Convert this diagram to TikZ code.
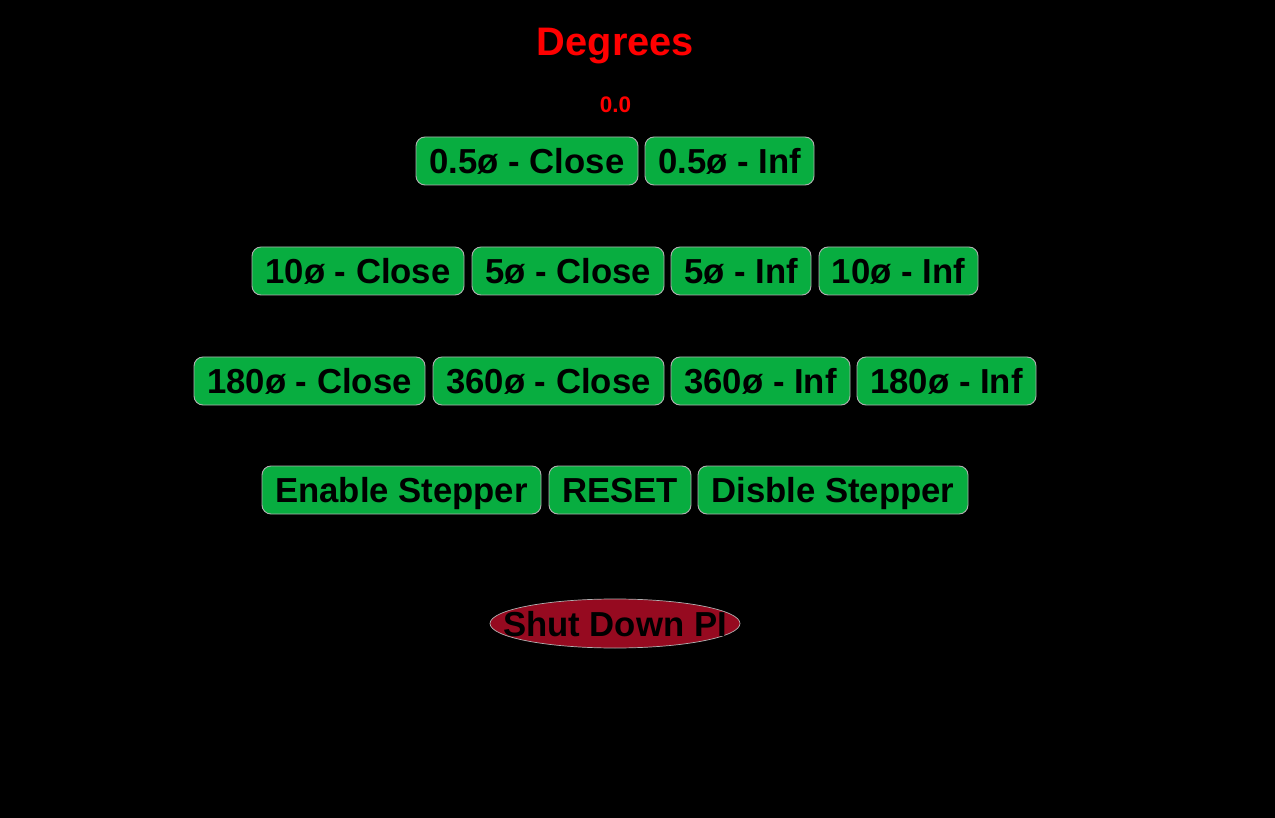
\documentclass[tikz,border=0pt]{standalone}
\usepackage{fontspec}
\setmainfont{Liberation Sans}
\usetikzlibrary{shapes.geometric}
\definecolor{btngreen}{HTML}{08AD40}
\definecolor{btnred}{HTML}{960A20}
\definecolor{btnedge}{HTML}{B0B0B0}
\definecolor{titlered}{HTML}{FF0000}
\tikzset{
  btn/.style={draw=btnedge, line width=0.9pt, fill=btngreen, rounded corners=9pt,
    minimum height=48pt, inner sep=0pt, text height=24.6pt, text depth=0pt,
    font=\fontsize{34.7pt}{36pt}\selectfont\bfseries, text=black},
  shut/.style={ellipse, draw=btnedge, line width=0.7pt, fill=btnred,
    minimum width=250pt, minimum height=49pt, inner sep=0pt, text height=24.6pt, text depth=0pt,
    font=\fontsize{34.7pt}{36pt}\selectfont\bfseries, text=black},
  ttl/.style={text=titlered, inner sep=0pt, anchor=base}
}
\begin{document}
\begin{tikzpicture}[x=1pt,y=-1pt]
\fill[black] (0,0) rectangle (1275,818);
\useasboundingbox (0,0) rectangle (1275,818);
\node[ttl, font=\fontsize{39.8pt}{41pt}\selectfont\bfseries] (title) at (615.5,56) {Degrees};
\node[ttl, font=\fontsize{22.5pt}{24pt}\selectfont\bfseries] (deg) at (615.5,112.5) {0.0};
% row 1
\node[btn, minimum width=222pt] (b1) at (527,161) {0.5ø - Close};
\node[btn, minimum width=169pt] (b2) at (729.5,161) {0.5ø - Inf};
% row 2
\node[btn, minimum width=212pt] (b3) at (358,271) {10ø - Close};
\node[btn, minimum width=192pt] (b4) at (568,271) {5ø - Close};
\node[btn, minimum width=140pt] (b5) at (741,271) {5ø - Inf};
\node[btn, minimum width=159pt] (b6) at (898.5,271) {10ø - Inf};
% row 3
\node[btn, minimum width=231pt] (b7) at (309.5,381) {180ø - Close};
\node[btn, minimum width=231pt] (b8) at (548.5,381) {360ø - Close};
\node[btn, minimum width=179pt] (b9) at (760.5,381) {360ø - Inf};
\node[btn, minimum width=179pt] (b10) at (946.5,381) {180ø - Inf};
% row 4
\node[btn, minimum width=279pt] (b11) at (401.5,490) {Enable Stepper};
\node[btn, minimum width=142pt] (b12) at (620,490) {RESET};
\node[btn, minimum width=270pt] (b13) at (833,490) {Disble Stepper};
% shutdown
\node[shut] (sd) at (615,623.5) {};
\begin{scope}
\clip (490,590) rectangle (727,660);
\node[text=black, inner sep=0pt, text height=24.6pt, text depth=0pt,
  font=\fontsize{34.7pt}{36pt}\selectfont\bfseries, anchor=west] (sdt) at (503,624) {Shut Down PI};
\end{scope}
\end{tikzpicture}
\end{document}
